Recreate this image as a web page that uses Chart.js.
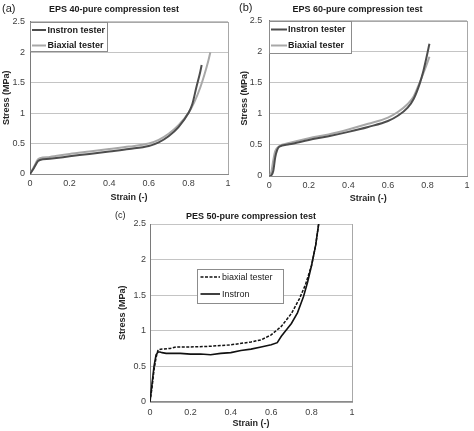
<!DOCTYPE html>
<html>
<head>
<meta charset="utf-8">
<script src="https://cdn.jsdelivr.net/npm/chart.js@4.4.1/dist/chart.umd.min.js"></script>
<style>
  body { margin: 0; background: #fff; }
  #wrap { position: relative; width: 474px; height: 431px; overflow: hidden; font-family: "Liberation Sans", Arial, sans-serif; }
  #wrap canvas { position: absolute; }
  .tag { position: absolute; line-height: 1; color: #222; }
</style>
</head>
<body>
<div id="wrap">
  <canvas id="chartA" width="237" height="204" style="left:0;top:0"></canvas>
  <canvas id="chartB" width="237" height="204" style="left:237px;top:0"></canvas>
  <canvas id="chartC" width="274" height="231" style="left:100px;top:200px"></canvas>
  <div class="tag" style="left:2px;top:3px;font-size:11px">(a)</div>
  <div class="tag" style="left:239px;top:2px;font-size:11px">(b)</div>
  <div class="tag" style="left:115px;top:211px;font-size:9px">(c)</div>
</div>
<script>
// axis ranges shared by the three panels
const strainMax = 1, strainStep = 0.2;
const stressMax = 2.5, stressStep = 0.5;

// (a) EPS 40
const epsA_instronStrain = [0, 0.02, 0.04, 0.05, 0.1, 0.2, 0.3, 0.4, 0.5, 0.6, 0.65, 0.7, 0.75, 0.8, 0.82, 0.84, 0.86, 0.867];
const epsA_instronStress = [0, 0.1, 0.21, 0.23, 0.25, 0.29, 0.33, 0.37, 0.41, 0.46, 0.52, 0.62, 0.77, 1.0, 1.15, 1.42, 1.68, 1.79];
const epsA_biaxialStrain = [0, 0.02, 0.04, 0.05, 0.1, 0.2, 0.3, 0.4, 0.5, 0.6, 0.65, 0.7, 0.75, 0.8, 0.83, 0.86, 0.88, 0.9, 0.911];
const epsA_biaxialStress = [0, 0.12, 0.24, 0.26, 0.28, 0.33, 0.37, 0.41, 0.45, 0.5, 0.56, 0.66, 0.8, 1.0, 1.18, 1.42, 1.62, 1.85, 2.0];

// (b) EPS 60
const epsB_instronStrain = [0, 0.01, 0.02, 0.03, 0.04, 0.05, 0.1, 0.2, 0.3, 0.4, 0.5, 0.6, 0.65, 0.7, 0.73, 0.76, 0.78, 0.8, 0.81];
const epsB_instronStress = [0, 0.01, 0.08, 0.3, 0.42, 0.47, 0.51, 0.58, 0.64, 0.71, 0.79, 0.885, 0.97, 1.1, 1.24, 1.48, 1.7, 1.98, 2.13];
const epsB_biaxialStrain = [0, 0.01, 0.02, 0.03, 0.05, 0.1, 0.2, 0.3, 0.4, 0.5, 0.6, 0.65, 0.7, 0.73, 0.76, 0.78, 0.8, 0.81];
const epsB_biaxialStress = [0, 0.06, 0.25, 0.4, 0.48, 0.53, 0.61, 0.67, 0.75, 0.84, 0.94, 1.03, 1.16, 1.28, 1.5, 1.66, 1.83, 1.92];

// (c) PES 50
const pes_biaxialStrain = [0, 0.01, 0.02, 0.03, 0.04, 0.06, 0.1, 0.13, 0.2, 0.3, 0.4, 0.5, 0.55, 0.6, 0.65, 0.7, 0.74, 0.77, 0.8, 0.82, 0.835];
const pes_biaxialStress = [0, 0.2, 0.45, 0.62, 0.73, 0.74, 0.75, 0.77, 0.77, 0.78, 0.8, 0.84, 0.87, 0.94, 1.06, 1.24, 1.45, 1.65, 1.92, 2.2, 2.5];
const pes_instronStrain = [0, 0.01, 0.02, 0.03, 0.04, 0.05, 0.06, 0.08, 0.1, 0.15, 0.2, 0.25, 0.3, 0.35, 0.4, 0.45, 0.5, 0.55, 0.6, 0.63, 0.65, 0.7, 0.73, 0.76, 0.78, 0.8, 0.82, 0.835];
const pes_instronStress = [0, 0.25, 0.5, 0.66, 0.7, 0.7, 0.69, 0.68, 0.68, 0.68, 0.67, 0.67, 0.66, 0.68, 0.69, 0.72, 0.74, 0.77, 0.8, 0.83, 0.92, 1.1, 1.25, 1.48, 1.68, 1.92, 2.2, 2.5];

const FONT = '"Liberation Sans", Arial, sans-serif';
const pts = (xs, ys) => xs.map((x, i) => ({ x, y: ys[i] }));
const tickText = v => String(Math.round(v * 100) / 100);

// grey frame round the plot area, like the spreadsheet original
const plotFrame = {
  id: 'plotFrame',
  beforeDraw(chart) {
    const { ctx, chartArea: a } = chart;
    ctx.save();
    ctx.strokeStyle = '#a8a8a8';
    ctx.lineWidth = 1;
    ctx.strokeRect(Math.round(a.left) + 0.5, Math.round(a.top) + 0.5, Math.round(a.width), Math.round(a.height));
    ctx.restore();
  }
};

// boxed legend sitting inside the plot area
const boxLegend = {
  id: 'boxLegend',
  afterDatasetsDraw(chart, args, o) {
    const { ctx, chartArea: a } = chart;
    const x = Math.round(a.left + o.x), y = Math.round(a.top + o.y);
    ctx.save();
    ctx.fillStyle = '#fff';
    ctx.fillRect(x, y, o.w, o.h);
    ctx.strokeStyle = '#8c8c8c';
    ctx.lineWidth = 1;
    ctx.strokeRect(x + 0.5, y + 0.5, o.w, o.h);
    ctx.font = o.font;
    ctx.textBaseline = 'middle';
    chart.data.datasets.forEach((ds, i) => {
      const ly = y + o.rows[i];
      ctx.beginPath();
      ctx.strokeStyle = ds.borderColor;
      ctx.lineWidth = ds.borderWidth;
      ctx.setLineDash(ds.borderDash || []);
      ctx.moveTo(x + o.line[0], ly);
      ctx.lineTo(x + o.line[1], ly);
      ctx.stroke();
      ctx.setLineDash([]);
      ctx.fillStyle = '#1a1a1a';
      ctx.fillText(ds.label, x + o.textX, ly + 0.5);
    });
    ctx.restore();
  }
};

function makeChart(id, p) {
  return new Chart(document.getElementById(id), {
    type: 'scatter',
    data: { datasets: p.datasets },
    plugins: [plotFrame, boxLegend],
    options: {
      responsive: false,
      animation: false,
      layout: { padding: { left: p.padL, right: p.padR, top: 0, bottom: 0 } },
      elements: { point: { radius: 0 } },
      plugins: {
        legend: { display: false },
        tooltip: { enabled: false },
        title: {
          display: true,
          text: p.title,
          fullSize: p.titleFull,
          color: '#1a1a1a',
          font: { family: FONT, size: 9, weight: 'bold' },
          padding: p.titlePad
        },
        boxLegend: p.legend
      },
      scales: {
        x: {
          type: 'linear', min: 0, max: strainMax,
          ticks: { stepSize: strainStep, padding: p.xTickPad, color: '#404040', font: { family: FONT, size: 9 }, callback: tickText },
          grid: { display: false, drawTicks: false },
          border: { color: '#8a8a8a' },
          title: { display: true, text: 'Strain (-)', color: '#262626', font: { family: FONT, size: 9, weight: 'bold' }, padding: { top: 0, bottom: p.xTitlePad } },
          afterFit: s => { s.height = p.xH; }
        },
        y: {
          min: 0, max: stressMax,
          ticks: { stepSize: stressStep, padding: p.yTickPad, color: '#404040', font: { family: FONT, size: 9 }, callback: tickText },
          grid: { color: '#c4c4c4', drawTicks: false },
          border: { color: '#7a7a7a' },
          title: { display: true, text: 'Stress (MPa)', color: '#262626', font: { family: FONT, size: 9, weight: 'bold' }, padding: { top: p.yTitlePad, bottom: 0 } },
          afterFit: s => { s.width = p.yW; }
        }
      }
    }
  });
}

const greyLine = (label, xs, ys, color) => ({
  label, data: pts(xs, ys), showLine: true, borderColor: color, borderWidth: 2,
  cubicInterpolationMode: 'monotone'
});

makeChart('chartA', {
  title: 'EPS 40-pure compression test', titleFull: true,
  datasets: [
    greyLine('Instron tester', epsA_instronStrain, epsA_instronStress, '#4d4d4d'),
    greyLine('Biaxial tester', epsA_biaxialStrain, epsA_biaxialStress, '#a8a8a8')
  ],
  padL: 0, padR: 9, yW: 30, yTitlePad: 1.6, yTickPad: 5,
  titlePad: { top: 4.6, bottom: 6.3 },
  xH: 30, xTickPad: 4, xTitlePad: 0.6,
  legend: { x: 0, y: 0, w: 77, h: 29, rows: [8, 23.5], line: [2, 16], textX: 17.5, font: 'bold 9px ' + FONT }
});

makeChart('chartB', {
  title: 'EPS 60-pure compression test', titleFull: true,
  datasets: [
    greyLine('Instron tester', epsB_instronStrain, epsB_instronStress, '#4d4d4d'),
    greyLine('Biaxial tester', epsB_biaxialStrain, epsB_biaxialStress, '#a8a8a8')
  ],
  padL: 11, padR: 7, yW: 21.3, yTitlePad: -8.4, yTickPad: 7,
  titlePad: { top: 4.6, bottom: 5.3 },
  xH: 28, xTickPad: 4, xTitlePad: 0.3,
  legend: { x: 0, y: 0, w: 82, h: 32, rows: [8.5, 24.5], line: [2, 18], textX: 19, font: 'bold 9px ' + FONT }
});

makeChart('chartC', {
  title: 'PES 50-pure compression test', titleFull: false,
  datasets: [
    { label: 'biaxial tester', data: pts(pes_biaxialStrain, pes_biaxialStress), showLine: true,
      borderColor: '#111', borderWidth: 1.5, borderDash: [3, 1.5] },
    { label: 'Instron', data: pts(pes_instronStrain, pes_instronStress), showLine: true,
      borderColor: '#111', borderWidth: 1.6 }
  ],
  padL: 0, padR: 22, yW: 50, yTitlePad: 17.6, yTickPad: 4,
  titlePad: { top: 11.3, bottom: 1.9 },
  xH: 29.3, xTickPad: 5, xTitlePad: 1.6,
  legend: { x: 47, y: 45, w: 86, h: 34, rows: [8, 25], line: [3.5, 23], textX: 25, font: '9px ' + FONT }
});
</script>
</body>
</html>
